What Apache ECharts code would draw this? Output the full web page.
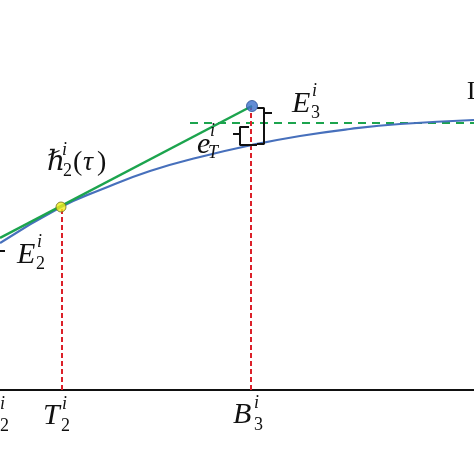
<!DOCTYPE html>
<html><head><meta charset="utf-8">
<script src="https://cdn.jsdelivr.net/npm/echarts@6/dist/echarts.min.js"></script>
<style>html,body{margin:0;padding:0;background:#fff}#c{width:474px;height:474px}</style>
</head><body><div id="c"></div>
<script>
// Concave curve (blue)
const curveX = [0, 0.61, 1.0, 1.5, 2.0, 2.52, 3.0, 3.5, 4.0, 4.74];
const curveY = [1.47, 1.83, 2.00, 2.19, 2.33, 2.45, 2.54, 2.61, 2.66, 2.70];
// Linear extrapolation (green)
const lineX = [0, 2.52];
const lineY = [1.52, 2.84];
// Horizontal reference (green dashed)
const refX = [1.9, 4.74];
const refY = [2.67, 2.67];
// Key points
const pointX = [0.61, 2.52];
const pointY = [1.83, 2.84];
// Vertical drop lines (red dashed) at T2 and B3
const dropX = [0.62, 2.51];
const dropTop = [1.83, 2.84];
// Brackets
const bracketR = [[2.57, 2.82], [2.64, 2.82], [2.64, 2.46], [2.57, 2.46]];
const bracketRTip = [[2.64, 2.77], [2.72, 2.77]];
const bracketL = [[2.49, 2.63], [2.40, 2.63], [2.40, 2.45], [2.57, 2.45]];
const bracketLTip = [[2.40, 2.56], [2.33, 2.56]];
const leftTick = [[0, 1.39], [0.05, 1.39]];

const chart = echarts.init(document.getElementById('c'));
const zip = (xs, ys) => xs.map((x, i) => [x, ys[i]]);
const blk = {color: '#111', width: 2};
const series = [
  {type: 'line', data: zip(curveX, curveY), smooth: true, symbol: 'none', lineStyle: {color: '#4770bc', width: 2.2}, z: 3},
  {type: 'line', data: zip(lineX, lineY), symbol: 'none', lineStyle: {color: '#1ca44e', width: 2.5}, z: 4},
  {type: 'line', data: zip(refX, refY), symbol: 'none', lineStyle: {color: '#1ca44e', width: 2, type: [8, 6]}, z: 2},
];
dropX.forEach((x, i) => series.push({type: 'line', data: [[x, 0], [x, dropTop[i]]], symbol: 'none', lineStyle: {color: '#dc2029', width: 2, type: [5, 3]}, z: 2}));
[bracketR, bracketRTip, bracketL, bracketLTip, leftTick].forEach(d => series.push({type: 'line', data: d, symbol: 'none', lineStyle: blk, z: 5}));
series.push({type: 'scatter', data: [[pointX[0], pointY[0]]], symbolSize: 10, itemStyle: {color: '#f2ee1a', borderColor: '#6b6b20', borderWidth: 1}, z: 10});
series.push({type: 'scatter', data: [[pointX[1], pointY[1]]], symbolSize: 11, itemStyle: {color: '#3c6fcb', borderColor: '#2a4f95', borderWidth: 1}, z: 10});

chart.setOption({
  animation: false,
  grid: {left: 0, right: 0, top: 0, bottom: 0},
  xAxis: {type: 'value', min: 0, max: 4.74, axisLine: {onZero: true, lineStyle: {color: '#111', width: 2}}, axisTick: {show: false}, axisLabel: {show: false}, splitLine: {show: false}},
  yAxis: {type: 'value', min: -0.84, max: 3.9, show: false, splitLine: {show: false}},
  series
});

// Math-style labels: anchor in data units, pieces offset in pixels
const SERIF = "'Liberation Serif','DejaVu Serif',serif";
const labels = [
  {at: [0.17, 1.35], parts: [['E', 0, 0, 30, 'italic'], ['i', 20, -13, 18, 'italic'], ['2', 19, 9, 18, 'normal']]},
  {at: [0.47, 2.27], parts: [['ℏ', 0, 0, 28, 'italic'], ['i', 15, -13, 18, 'italic'], ['2', 16, 8, 18, 'normal'], ['(', 26, 0, 28, 'normal'], ['τ', 36, 0, 28, 'italic'], [')', 50, 0, 28, 'normal']]},
  {at: [2.92, 2.86], parts: [['E', 0, 0, 30, 'italic'], ['i', 20, -13, 18, 'italic'], ['3', 19, 9, 18, 'normal']]},
  {at: [1.97, 2.45], parts: [['e', 0, 0, 30, 'italic'], ['i', 13, -14, 18, 'italic'], ['T', 11, 8, 18, 'italic']]},
  {at: [4.67, 2.98], parts: [['L', 0, 0, 26, 'normal']]},
  {at: [0.43, -0.26], parts: [['T', 0, 0, 30, 'italic'], ['i', 19, -12, 18, 'italic'], ['2', 18, 10, 18, 'normal']]},
  {at: [2.33, -0.25], parts: [['B', 0, 0, 30, 'italic'], ['i', 21, -12, 18, 'italic'], ['3', 21, 10, 18, 'normal']]},
  {at: [-0.21, -0.26], parts: [['B', 0, 0, 30, 'italic'], ['i', 21, -12, 18, 'italic'], ['2', 21, 10, 18, 'normal']]}
];
const graphic = [];
labels.forEach(l => {
  const p = chart.convertToPixel({gridIndex: 0}, l.at);
  l.parts.forEach(([t, dx, dy, size, st]) => graphic.push({
    type: 'text', x: p[0] + dx, y: p[1] + dy, z: 20,
    style: {text: t, fill: '#111', font: st + ' ' + size + 'px ' + SERIF, textAlign: 'left', textVerticalAlign: 'middle'}
  }));
});
chart.setOption({graphic});
</script></body></html>
